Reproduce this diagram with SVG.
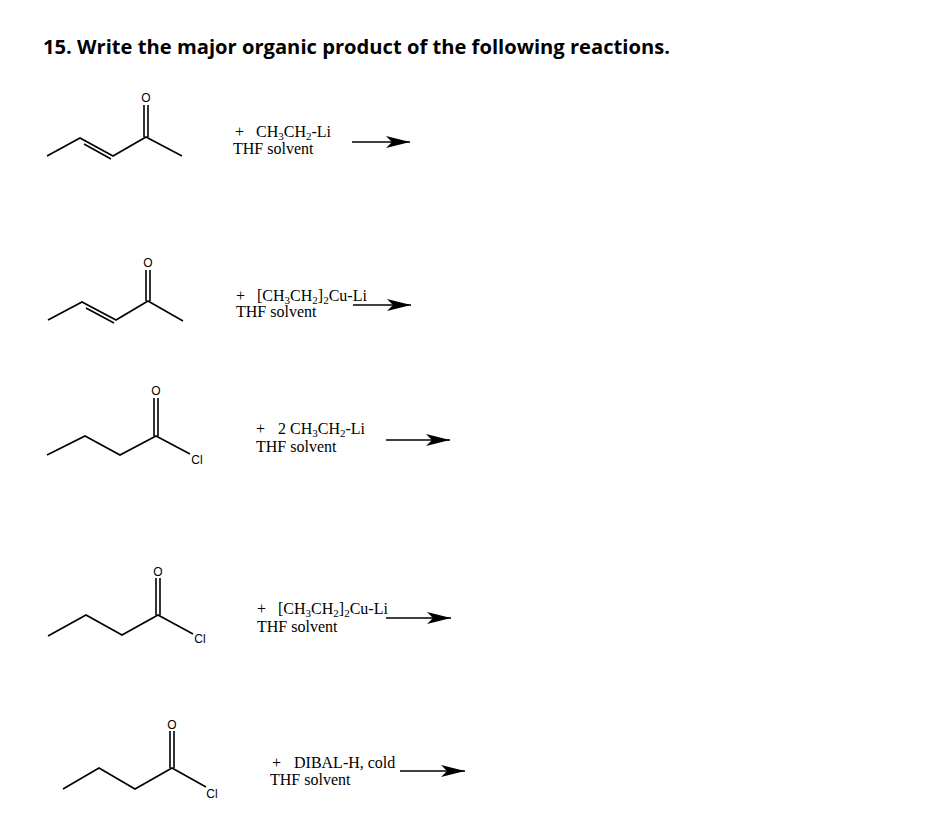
<svg xmlns="http://www.w3.org/2000/svg" width="948" height="821" viewBox="0 0 948 821">
<style>
.b{fill:none;stroke:#000;stroke-width:1.6;stroke-linejoin:miter}
.a{stroke:#000;stroke-width:1.6}
.t{font-family:"Liberation Serif",serif;font-size:16px;fill:#000}
.s{font-size:11px}
.at{font-family:"Liberation Sans",sans-serif;font-size:12px;fill:#000}
.h{font-family:"Open Sans","Liberation Sans",sans-serif;font-size:19px;font-weight:bold;fill:#000}
</style>
<defs>
<marker id="ah" markerWidth="24" markerHeight="12" refX="24" refY="6" orient="auto" markerUnits="userSpaceOnUse" viewBox="0 0 24 12"><path d="M0,0 L24,6 L0,12 L6,6 Z" fill="#000"/></marker></defs>
<rect width="948" height="821" fill="#fff"/>
<text class="h" x="43" y="54" textLength="627" lengthAdjust="spacingAndGlyphs">15. Write the major organic product of the following reactions.</text>

<g id="m1">
<polyline class="b" points="47,156 80,138 113,156 146,137 182,156"/>
<line class="b" x1="84" y1="144" x2="111" y2="159"/>
<line class="b" x1="144" y1="137" x2="144" y2="105"/><line class="b" x1="148" y1="137" x2="148" y2="105"/>
<text class="at" x="146" y="102" text-anchor="middle">O</text>
</g>
<g id="r1"><text class="t" x="235" y="137">+<tspan x="256">CH</tspan><tspan class="s" dy="3">3</tspan><tspan dy="-3">CH</tspan><tspan class="s" dy="3">2</tspan><tspan dy="-3">-Li</tspan></text>
<text class="t" x="233" y="154">THF solvent</text></g>

<g id="m2">
<polyline class="b" points="48,320 82,302 116,320 148,301 183,321"/>
<line class="b" x1="86" y1="308" x2="114" y2="323"/>
<line class="b" x1="146" y1="301" x2="146" y2="270"/><line class="b" x1="150" y1="301" x2="150" y2="270"/>
<text class="at" x="148" y="267" text-anchor="middle">O</text>
</g>
<g id="r2"><text class="t" x="236" y="301">+<tspan x="257">[CH</tspan><tspan class="s" dy="3">3</tspan><tspan dy="-3">CH</tspan><tspan class="s" dy="3">2</tspan><tspan dy="-3">]</tspan><tspan class="s" dy="3">2</tspan><tspan dy="-3">Cu-Li</tspan></text>
<text class="t" x="236" y="317">THF solvent</text></g>

<g id="m3">
<polyline class="b" points="47,455 85,436 120,455 156,436 190,454"/>
<line class="b" x1="154" y1="436" x2="154" y2="398"/><line class="b" x1="158" y1="436" x2="158" y2="398"/>
<text class="at" x="156" y="395" text-anchor="middle">O</text>
<text class="at" x="197" y="464" text-anchor="middle">Cl</text>
</g>
<g id="r3"><text class="t" x="256" y="434">+<tspan x="278">2 CH</tspan><tspan class="s" dy="3">3</tspan><tspan dy="-3">CH</tspan><tspan class="s" dy="3">2</tspan><tspan dy="-3">-Li</tspan></text>
<text class="t" x="256" y="452">THF solvent</text></g>

<g id="m4">
<polyline class="b" points="48,636 86,615 122,635 158,615 193,634"/>
<line class="b" x1="156" y1="615" x2="156" y2="578"/><line class="b" x1="160" y1="615" x2="160" y2="578"/>
<text class="at" x="158" y="576" text-anchor="middle">O</text>
<text class="at" x="200" y="643" text-anchor="middle">Cl</text>
</g>
<g id="r4"><text class="t" x="257" y="614">+<tspan x="278">[CH</tspan><tspan class="s" dy="3">3</tspan><tspan dy="-3">CH</tspan><tspan class="s" dy="3">2</tspan><tspan dy="-3">]</tspan><tspan class="s" dy="3">2</tspan><tspan dy="-3">Cu-Li</tspan></text>
<text class="t" x="257" y="632">THF solvent</text></g>

<g id="m5">
<polyline class="b" points="63,789 99,768 135,789 172,768 206,787"/>
<line class="b" x1="170" y1="768" x2="170" y2="731"/><line class="b" x1="174" y1="768" x2="174" y2="731"/>
<text class="at" x="172" y="729" text-anchor="middle">O</text>
<text class="at" x="212" y="798" text-anchor="middle">Cl</text>
</g>
<g id="r5"><text class="t" x="272" y="768">+<tspan x="294">DIBAL-H, cold</tspan></text>
<text class="t" x="270" y="785">THF solvent</text></g>

<g id="connectors">
<line class="a" x1="352" y1="142" x2="410" y2="142" marker-end="url(#ah)"/>
<line class="a" x1="353" y1="305" x2="411" y2="305" marker-end="url(#ah)"/>
<line class="a" x1="386" y1="440" x2="450" y2="440" marker-end="url(#ah)"/>
<line class="a" x1="386" y1="618" x2="451" y2="618" marker-end="url(#ah)"/>
<line class="a" x1="400" y1="771" x2="465" y2="771" marker-end="url(#ah)"/>
</g>
</svg>
